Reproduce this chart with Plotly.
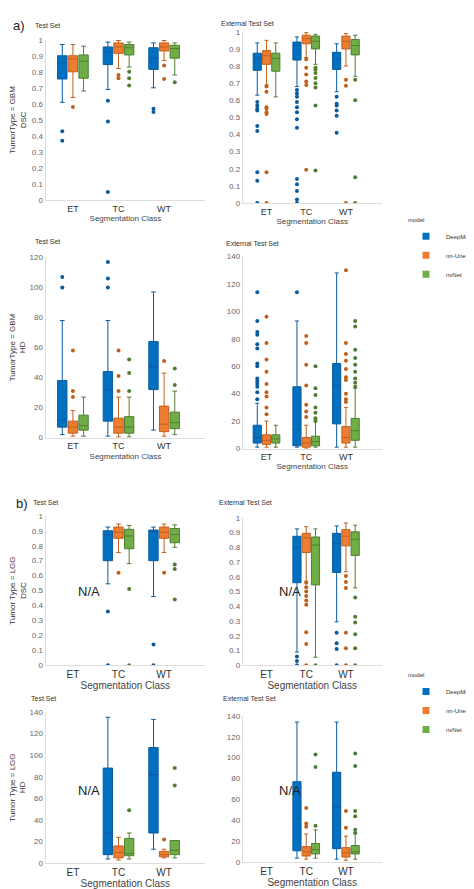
import plotly.graph_objects as go

CLASSES = ["ET", "TC", "WT"]
MODELS = ["DeepMedic", "nn-Unet", "nvNet"]
COLORS = ["#0070C0", "#ED7D31", "#70AD47"]
LINES = ["#0a5a9c", "#c0601c", "#507d32"]

# each stat tuple: (q1, median, q3, lower whisker, upper whisker)
GBM_DSC_TEST_CLS = ["ET", "TC", "WT"]
GBM_DSC_TEST_DM = [(.755, .855, .90, .61, .97), (.845, .925, .955, .69, .985), (.815, .885, .95, .70, .98)]
GBM_DSC_TEST_NN = [(.80, .88, .90, .64, .97), (.915, .955, .98, .82, .995), (.93, .955, .98, .87, .995)]
GBM_DSC_TEST_NV = [(.76, .865, .905, .68, .96), (.905, .95, .97, .83, .985), (.885, .945, .965, .78, .98)]
GBM_DSC_TEST_DM_OUT = [[.43, .37], [.62, .49, .05], [.57, .55]]
GBM_DSC_TEST_NN_OUT = [[.58], [.78, .76], [.84, .755]]
GBM_DSC_TEST_NV_OUT = [[], [.80, .76, .715], [.735]]

GBM_DSC_EXT_CLS = ["ET", "TC", "WT"]
GBM_DSC_EXT_DM = [(.775, .845, .875, .63, .935), (.835, .92, .94, .68, .97), (.78, .84, .88, .65, .93)]
GBM_DSC_EXT_NN = [(.81, .86, .89, .69, .95), (.93, .96, .98, .85, .995), (.90, .945, .975, .80, .99)]
GBM_DSC_EXT_NV = [(.77, .845, .875, .62, .935), (.90, .945, .975, .81, .985), (.865, .92, .955, .74, .98)]
GBM_DSC_EXT_DM_OUT = [[.59, .57, .55, .54, .45, .42, .18, .13, 0],
                      [.66, .64, .62, .59, .56, .53, .49, .44, .14, .11, .07, .02, 0],
                      [.62, .58, .57, .54, .51, .41]]
GBM_DSC_EXT_NN_OUT = [[.68, .65, .56, .55, .53, .52, .18, 0], [.84, .79, .75, .71, .69, .195], [.72, .685, 0]]
GBM_DSC_EXT_NV_OUT = [[], [.79, .78, .76, .73, .70, .675, .57, .19], [.72, .60, .15, 0]]

GBM_HD_TEST_CLS = ["ET", "TC", "WT"]
GBM_HD_TEST_DM = [(7, 12, 38, 2, 78), (11, 32, 44, 1, 78), (32, 47, 64, 5, 97)]
GBM_HD_TEST_NN = [(3, 7, 11, 1, 18), (3, 7, 13, 0.5, 27), (4, 9, 21, 1, 43)]
GBM_HD_TEST_NV = [(5, 8, 15, 1, 27), (3, 7, 14, 0.5, 27), (6, 10, 17, 2, 31)]
GBM_HD_TEST_DM_OUT = [[107, 100], [117, 106, 100], []]
GBM_HD_TEST_NN_OUT = [[58, 31, 27], [58, 41, 31], [51]]
GBM_HD_TEST_NV_OUT = [[], [52, 43, 31], [46, 35]]

GBM_HD_EXT_CLS = ["ET", "TC", "WT"]
GBM_HD_EXT_DM = [(4, 8, 17, 1, 33), (2, 14, 45, 1, 93), (18, 46, 62, 1, 128)]
GBM_HD_EXT_NN = [(3, 6, 10, 1, 20), (1, 4, 8, 0, 17), (4, 8, 16, 1, 30)]
GBM_HD_EXT_NV = [(4, 7, 10, 1, 17), (2, 5, 9, 1, 20), (6, 13, 22, 1, 44)]
GBM_HD_EXT_DM_OUT = [[114, 93, 85, 83, 76, 73, 62, 60, 51, 49, 47, 45, 41, 36], [114], []]
GBM_HD_EXT_NN_OUT = [[96, 77, 65, 56, 47, 41, 38, 30, 25], [82, 77, 61, 46, 32, 27, 23],
                     [130, 77, 69, 64, 58, 52, 50, 40, 36, 34]]
GBM_HD_EXT_NV_OUT = [[], [60, 44, 39, 30, 26, 22, 20], [93, 89, 72, 66, 61, 56, 51, 48, 45]]

LGG_DSC_TEST_CLS = ["TC", "WT"]
LGG_DSC_TEST_DM = [(.70, .875, .90, .545, .925), (.70, .895, .905, .46, .925)]
LGG_DSC_TEST_NN = [(.85, .89, .925, .755, .945), (.85, .89, .925, .755, .945)]
LGG_DSC_TEST_NV = [(.78, .865, .91, .68, .935), (.82, .875, .915, .79, .94)]
LGG_DSC_TEST_DM_OUT = [[.36, 0], [.14, 0]]
LGG_DSC_TEST_NN_OUT = [[.62], [.62]]
LGG_DSC_TEST_NV_OUT = [[.51, 0], [.675, .645, .44]]

LGG_DSC_EXT_CLS = ["TC", "WT"]
LGG_DSC_EXT_DM = [(.56, .80, .875, .09, .925), (.63, .825, .895, .295, .945)]
LGG_DSC_EXT_NN = [(.765, .865, .895, .57, .94), (.81, .875, .92, .635, .965)]
LGG_DSC_EXT_NV = [(.545, .815, .87, .055, .925), (.745, .855, .905, .525, .95)]
LGG_DSC_EXT_DM_OUT = [[.06, .03, 0], [.22, .15, .11, 0]]
LGG_DSC_EXT_NN_OUT = [[.56, .53, .50, .47, .44, .41, .225, .145, 0], [.605, .565, .525, .22, .115, 0]]
LGG_DSC_EXT_NV_OUT = [[0], [.46, .33, .29, .21, .115, 0]]

LGG_HD_TEST_CLS = ["TC", "WT"]
LGG_HD_TEST_DM = [(8, 28, 88, 4, 135), (28, 82, 107, 13, 133)]
LGG_HD_TEST_NN = [(5, 10, 16, 3, 24), (6, 8, 11, 5, 13)]
LGG_HD_TEST_NV = [(7, 9, 23, 4, 28), (8, 12, 21, 5, 21)]
LGG_HD_TEST_DM_OUT = [[], []]
LGG_HD_TEST_NN_OUT = [[], [22]]
LGG_HD_TEST_NV_OUT = [[49], [88, 72]]

LGG_HD_EXT_CLS = ["TC", "WT"]
LGG_HD_EXT_DM = [(11, 42, 77, 4, 134), (13, 53, 86, 3, 134)]
LGG_HD_EXT_NN = [(6, 10, 15, 3, 27), (5, 9, 14, 2, 25)]
LGG_HD_EXT_NV = [(8, 12, 18, 4, 31), (8, 10, 16, 3, 28)]
LGG_HD_EXT_DM_OUT = [[], []]
LGG_HD_EXT_NN_OUT = [[52, 37, 34], [49, 33]]
LGG_HD_EXT_NV_OUT = [[103, 91, 35], [104, 92, 49, 44, 31, 28]]

PANELS = [
    (GBM_DSC_TEST_CLS, [GBM_DSC_TEST_DM, GBM_DSC_TEST_NN, GBM_DSC_TEST_NV],
     [GBM_DSC_TEST_DM_OUT, GBM_DSC_TEST_NN_OUT, GBM_DSC_TEST_NV_OUT]),
    (GBM_DSC_EXT_CLS, [GBM_DSC_EXT_DM, GBM_DSC_EXT_NN, GBM_DSC_EXT_NV],
     [GBM_DSC_EXT_DM_OUT, GBM_DSC_EXT_NN_OUT, GBM_DSC_EXT_NV_OUT]),
    (GBM_HD_TEST_CLS, [GBM_HD_TEST_DM, GBM_HD_TEST_NN, GBM_HD_TEST_NV],
     [GBM_HD_TEST_DM_OUT, GBM_HD_TEST_NN_OUT, GBM_HD_TEST_NV_OUT]),
    (GBM_HD_EXT_CLS, [GBM_HD_EXT_DM, GBM_HD_EXT_NN, GBM_HD_EXT_NV],
     [GBM_HD_EXT_DM_OUT, GBM_HD_EXT_NN_OUT, GBM_HD_EXT_NV_OUT]),
    (LGG_DSC_TEST_CLS, [LGG_DSC_TEST_DM, LGG_DSC_TEST_NN, LGG_DSC_TEST_NV],
     [LGG_DSC_TEST_DM_OUT, LGG_DSC_TEST_NN_OUT, LGG_DSC_TEST_NV_OUT]),
    (LGG_DSC_EXT_CLS, [LGG_DSC_EXT_DM, LGG_DSC_EXT_NN, LGG_DSC_EXT_NV],
     [LGG_DSC_EXT_DM_OUT, LGG_DSC_EXT_NN_OUT, LGG_DSC_EXT_NV_OUT]),
    (LGG_HD_TEST_CLS, [LGG_HD_TEST_DM, LGG_HD_TEST_NN, LGG_HD_TEST_NV],
     [LGG_HD_TEST_DM_OUT, LGG_HD_TEST_NN_OUT, LGG_HD_TEST_NV_OUT]),
    (LGG_HD_EXT_CLS, [LGG_HD_EXT_DM, LGG_HD_EXT_NN, LGG_HD_EXT_NV],
     [LGG_HD_EXT_DM_OUT, LGG_HD_EXT_NN_OUT, LGG_HD_EXT_NV_OUT]),
]

W, H = 474, 889
def py(p):
    return 1 - p / H

XDOM = [[40 / W, 210 / W], [250 / W, 398 / W]]
YDOM = [[py(190), py(28)], [py(193), py(20)],
        [py(430), py(248)], [py(441), py(247)],
        [py(660), py(509)], [py(660), py(511)],
        [py(860), py(707)], [py(859), py(711)]]
YRANGES = [[0, 1.0], [0, 1.0], [0, 120], [0, 140], [0, 1.0], [0, 1.0], [0, 140], [0, 140]]
YDTICK = [0.1, 0.1, 20, 20, 0.1, 0.1, 20, 20]
YTITLES = ["TumorType = GBM<br>DSC", None, "TumorType = GBM<br>HD", None,
           "Tumor Type = LGG<br>DSC", None, "Tumor Type = LGG<br>HD", None]

fig = go.Figure()
for pi, (cls, stats, outs) in enumerate(PANELS):
    ax = "" if pi == 0 else str(pi + 1)
    for mi in range(3):
        s = stats[mi]
        fig.add_trace(go.Box(
            x=cls, q1=[v[0] for v in s], median=[v[1] for v in s], q3=[v[2] for v in s],
            lowerfence=[v[3] for v in s], upperfence=[v[4] for v in s],
            name=MODELS[mi], fillcolor=COLORS[mi], line=dict(color=LINES[mi], width=1),
            offsetgroup=MODELS[mi], alignmentgroup="g" + ax,
            xaxis="x" + ax, yaxis="y" + ax, showlegend=False, boxpoints=False))
        ox, oy = [], []
        for c, vals in zip(cls, outs[mi]):
            ox += [c] * len(vals)
            oy += vals
        fig.add_trace(go.Scatter(
            x=ox, y=oy, mode="markers", marker=dict(color=LINES[mi], size=4),
            offsetgroup=MODELS[mi], alignmentgroup="g" + ax,
            xaxis="x" + ax, yaxis="y" + ax, showlegend=False))

# legend entries on a hidden axis
for leg in ["legend", "legend2"]:
    for mi in range(3):
        fig.add_trace(go.Scatter(
            x=[None], y=[None], mode="markers", name=MODELS[mi], legend=leg,
            marker=dict(symbol="square", size=7, color=COLORS[mi]),
            xaxis="x9", yaxis="y9", showlegend=True))

FONT = "Liberation Sans"
legcommon = dict(xanchor="left", yanchor="top", font=dict(size=6, color="#333"),
                 itemwidth=30, tracegroupgap=0, bgcolor="rgba(0,0,0,0)",
                 title=dict(text="model", font=dict(size=6, color="#333")))
layout = dict(width=W, height=H, margin=dict(l=0, r=0, t=0, b=0),
              plot_bgcolor="white", paper_bgcolor="white",
              font=dict(family=FONT, size=8, color="#555"),
              boxmode="group", scattermode="group", boxgap=0.3, boxgroupgap=0.12, scattergap=0.3,
              legend=dict(x=0.895, y=py(204), **legcommon),
              legend2=dict(x=0.895, y=py(664), **legcommon),
              xaxis9=dict(domain=[0.99, 1], anchor="y9", visible=False),
              yaxis9=dict(domain=[0.99, 1], anchor="x9", visible=False))
for pi in range(8):
    ax = "" if pi == 0 else str(pi + 1)
    col = pi % 2
    big = pi >= 4
    xt = dict(text="Segmentation Class", font=dict(size=10 if big else 8, color="#444"), standoff=2)
    layout["xaxis" + ax] = dict(domain=XDOM[col], anchor="y" + ax, type="category",
                                categoryorder="array", categoryarray=CLASSES, range=[-0.6, 2.9],
                                showline=True, linecolor="#ddd", ticks="", showgrid=False,
                                tickfont=dict(size=10 if big else 9, color="#333"), title=xt)
    yt = dict(domain=YDOM[pi], anchor="x" + ax, range=YRANGES[pi], dtick=YDTICK[pi],
              showline=True, linecolor="#ddd", showgrid=False, zeroline=False, ticks="",
              tickfont=dict(size=8, color="#666"))
    if YTITLES[pi]:
        yt["title"] = dict(text=YTITLES[pi], font=dict(size=8, color="#333"), standoff=4)
    layout["yaxis" + ax] = yt
fig.update_layout(**layout)

ann = []
TITLES = [(27, 14, "Test Set"), (225, 12, "External Test Set"),
          (27, 232, "Test Set"), (230, 234, "External Test Set"),
          (25, 496, "Test Set"), (223, 496, "External Test Set"),
          (22, 694, "Test Set"), (227, 694, "External Test Set")]
for x, y, t in TITLES:
    ann.append(dict(x=x / W, y=py(y), xref="paper", yref="paper", text=t, showarrow=False,
                    xanchor="left", yanchor="middle", font=dict(size=7, color="#333")))
for x, y, t in [(3, 14, "a)"), (6, 497, "b)")]:
    ann.append(dict(x=x / W, y=py(y), xref="paper", yref="paper", text=t, showarrow=False,
                    xanchor="left", yanchor="middle", font=dict(size=13, color="#222")))
for x, y in [(72, 585), (287, 585), (72, 786), (287, 786)]:
    ann.append(dict(x=x / W, y=py(y), xref="paper", yref="paper", text="N/A", showarrow=False,
                    xanchor="left", yanchor="middle", font=dict(size=13, color="#222")))
fig.update_layout(annotations=ann)
fig.write_html("out.html")
